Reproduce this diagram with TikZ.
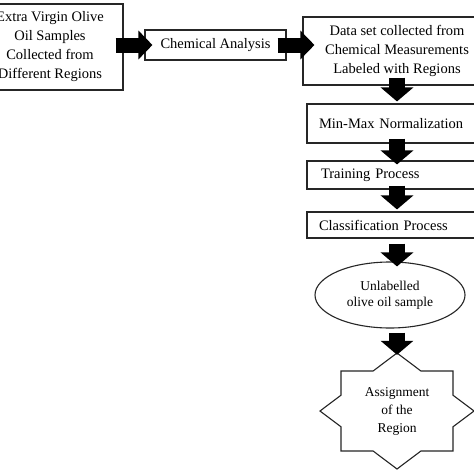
\documentclass[tikz,border=0pt]{standalone}
\usepackage{fontspec}
\setmainfont{Liberation Serif}
\usetikzlibrary{arrows.meta,shapes.geometric,calc}
\begin{document}
\begin{tikzpicture}[x=1pt,y=-1pt,
 box/.style={draw=black!85, line width=1.1pt, rectangle, inner sep=0pt, font=\fontsize{14.5}{19}\selectfont, align=center},
 lbox/.style={box, align=left, text width=#1},
 small/.style={font=\fontsize{13.5}{18}\selectfont, align=center, inner sep=0pt},
 blk/.style={line width=16pt, black, -{Triangle[width=32pt 0,length=14pt 0]}},
 hblk/.style={line width=15pt, black, -{Triangle[width=28pt 0,length=14pt 0]}},
]
\useasboundingbox (0,0) rectangle (474,474);
\fill[white] (0,0) rectangle (474,474);

\node[box, minimum width=146pt, minimum height=86pt] (n1) at (50,47)
  {Extra Virgin Olive\\Oil Samples\\Collected from\\Different Regions};
\node[box, minimum width=141pt, minimum height=30pt] (n2) at (215.5,45) {Chemical Analysis};
\node[box, minimum width=188pt, minimum height=68pt] (n3) at (397,51)
  {Data set collected from\\Chemical Measurements\\Labeled with Regions};
\node[lbox=169pt, minimum width=193pt, minimum height=39pt] (n4) at (403.5,123.5) {Min-Max Normalization};
\node[lbox=165pt, minimum width=193pt, minimum height=28pt] (n5) at (403.5,175) {Training Process};
\node[lbox=169pt, minimum width=193pt, minimum height=26pt] (n6) at (403.5,225) {Classification Process};
\node[small, draw=black!85, line width=1.1pt, ellipse, minimum width=150pt, minimum height=66pt,
  font=\fontsize{13.5}{16}\selectfont] (ell) at (390,295) {Unlabelled\\olive oil sample};
\node[small, minimum width=154pt, minimum height=116pt] (star) at (397,411) {Assignment\\of the\\Region};

\begin{scope}[shift={(star.center)}]
\draw[black!85, line width=1.1pt, line join=miter]
  (0,-58) -- (23.9,-40) -- (56,-40) -- (56,-15.8) -- (77,0) -- (56,15.8) -- (56,40) -- (23.9,40)
  -- (0,58) -- (-23.9,40) -- (-56,40) -- (-56,15.8) -- (-77,0) -- (-56,-15.8) -- (-56,-40) -- (-23.9,-40) -- cycle;
\end{scope}

\coordinate (ax) at (397,0);
\draw[hblk] ($(n1.east |- n2.west)+(-8,0)$) -- ($(n2.west)+(8,0)$);
\draw[hblk] ($(n2.east)+(-9,0)$) -- ($(n3.west |- n2.east)+(12,0)$);
\draw[blk] ($(ax |- n3.south)+(0,-8)$) -- ($(ax |- n4.north)+(0,-2)$);
\draw[blk] ($(ax |- n4.south)+(0,-5)$) -- ($(ax |- n5.north)+(0,4)$);
\draw[blk] ($(ax |- n5.south)+(0,-4)$) -- ($(ax |- n6.north)+(0,-2)$);
\draw[blk] ($(ax |- n6.south)+(0,5)$) -- ($(ax |- ell.north)+(0,5)$);
\draw[blk] ($(ax |- ell.south)+(0,4)$) -- ($(ax |- star.north)+(0,2)$);
\end{tikzpicture}
\end{document}
